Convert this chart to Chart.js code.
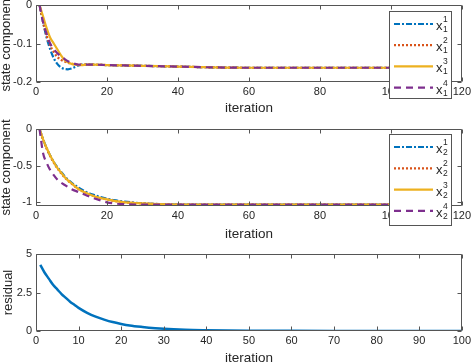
<!DOCTYPE html>
<html>
<head>
<meta charset="utf-8">
<script src="https://cdn.jsdelivr.net/npm/chart.js@4.4.0/dist/chart.umd.min.js"></script>
<style>
  html, body { margin: 0; padding: 0; background: #fff; overflow: hidden; }
  #wrap { position: relative; width: 474px; height: 363px; }
  canvas { position: absolute; left: 0; }
</style>
</head>
<body>
<div id="wrap">
  <canvas id="c1" width="474" height="130" style="top:-10px"></canvas>
  <canvas id="c2" width="474" height="130" style="top:115px"></canvas>
  <canvas id="c3" width="474" height="128" style="top:240px"></canvas>
</div>
<script>
// --- data ---
const iter1 = [1, 2, 3, 4, 5, 6, 7, 8, 9, 10, 11, 12, 13, 14, 16, 20, 25, 30, 40, 50, 60, 70, 80, 90, 100];
const x1_1 = [0, -0.045, -0.085, -0.115, -0.138, -0.153, -0.162, -0.166, -0.167, -0.165, -0.161, -0.157, -0.155, -0.154, -0.155, -0.156, -0.157, -0.158, -0.16, -0.162, -0.163, -0.163, -0.163, -0.163, -0.163];
const x1_2 = [0, -0.045, -0.08, -0.105, -0.122, -0.135, -0.142, -0.147, -0.15, -0.152, -0.154, -0.155, -0.155, -0.155, -0.155, -0.156, -0.157, -0.158, -0.16, -0.162, -0.163, -0.163, -0.163, -0.163, -0.163];
const x1_3 = [0, -0.03, -0.06, -0.085, -0.1, -0.115, -0.13, -0.142, -0.149, -0.153, -0.155, -0.156, -0.156, -0.155, -0.155, -0.156, -0.157, -0.158, -0.16, -0.162, -0.163, -0.163, -0.163, -0.163, -0.163];
const x1_4 = [0, -0.045, -0.075, -0.1, -0.115, -0.125, -0.133, -0.14, -0.146, -0.15, -0.153, -0.155, -0.155, -0.155, -0.155, -0.156, -0.157, -0.158, -0.16, -0.162, -0.163, -0.163, -0.163, -0.163, -0.163];

const iter2 = [1, 2, 3, 4, 5, 6, 7, 8, 9, 10, 12, 14, 16, 18, 20, 22, 25, 28, 30, 35, 40, 50, 60, 70, 80, 90, 100];
const x2_1 = [0, -0.14, -0.26, -0.36, -0.45, -0.52, -0.58, -0.64, -0.69, -0.73, -0.8, -0.855, -0.895, -0.925, -0.95, -0.97, -0.99, -1.005, -1.012, -1.024, -1.03, -1.03, -1.03, -1.03, -1.03, -1.03, -1.03];
const x2_2 = [0, -0.15, -0.27, -0.37, -0.46, -0.535, -0.6, -0.655, -0.705, -0.745, -0.82, -0.87, -0.91, -0.94, -0.96, -0.98, -1.0, -1.01, -1.015, -1.025, -1.03, -1.03, -1.03, -1.03, -1.03, -1.03, -1.03];
const x2_3 = [0, -0.14, -0.26, -0.36, -0.45, -0.53, -0.59, -0.65, -0.7, -0.74, -0.82, -0.87, -0.91, -0.94, -0.96, -0.98, -1.0, -1.01, -1.015, -1.025, -1.03, -1.03, -1.03, -1.03, -1.03, -1.03, -1.03];
const x2_4 = [0, -0.33, -0.46, -0.56, -0.63, -0.69, -0.73, -0.76, -0.79, -0.82, -0.86, -0.9, -0.94, -0.97, -1.0, -1.015, -1.025, -1.03, -1.03, -1.03, -1.03, -1.03, -1.03, -1.03, -1.03, -1.03, -1.03];

const iter3 = [1, 2, 3, 4, 5, 6, 7, 8, 9, 10, 12, 14, 16, 18, 20, 22, 25, 28, 30, 35, 40, 45, 50, 60, 70, 80, 90, 100];
const residual = [4.3, 3.8, 3.4, 3.0, 2.7, 2.4, 2.15, 1.9, 1.7, 1.5, 1.18, 0.93, 0.74, 0.58, 0.46, 0.36, 0.26, 0.18, 0.14, 0.08, 0.05, 0.03, 0.02, 0.01, 0.005, 0.003, 0.002, 0.001];

const xTicks1 = [0, 20, 40, 60, 80, 100, 120];
const yTicks1 = [-0.2, -0.1, 0];
const yTicks2 = [-1, -0.5, 0];
const xTicks3 = [0, 10, 20, 30, 40, 50, 60, 70, 80, 90, 100];
const yTicks3 = [0, 2.5, 5];

const FONT = "'Liberation Sans', Arial, sans-serif";
const TEXT = '#262626';
const AXIS = '#555555';
const BLUE = '#0072BD', RED = '#D95319', YELLOW = '#EDB120', PURPLE = '#7E2F8E';

Chart.defaults.font.family = FONT;
Chart.defaults.color = TEXT;

// matlab-like box with inward ticks on all four sides
const boxPlugin = {
  id: 'mbox',
  afterDatasetsDraw(chart) {
    const {ctx, chartArea: a, scales} = chart;
    const L = Math.round(a.left) + 0.5, R = Math.round(a.right) - 0.5;
    const T = Math.round(a.top) + 0.5, B = Math.round(a.bottom) - 0.5;
    ctx.save();
    ctx.strokeStyle = AXIS;
    ctx.lineWidth = 1;
    ctx.beginPath();
    ctx.rect(L, T, R - L, B - T);
    scales.x.ticks.forEach(t => {
      const p = Math.round(scales.x.getPixelForValue(t.value)) + 0.5;
      ctx.moveTo(p, B); ctx.lineTo(p, B - 4);
      ctx.moveTo(p, T); ctx.lineTo(p, T + 4);
    });
    scales.y.ticks.forEach(t => {
      const p = Math.round(scales.y.getPixelForValue(t.value)) + 0.5;
      ctx.moveTo(L, p); ctx.lineTo(L + 4, p);
      ctx.moveTo(R, p); ctx.lineTo(R - 4, p);
    });
    ctx.stroke();
    ctx.restore();
  }
};

// boxed legend with x^i_j labels
const legendPlugin = {
  id: 'mlegend',
  afterDraw(chart, args, opts) {
    if (!opts.show) return;
    const {ctx, chartArea: a} = chart;
    const x0 = Math.round(a.right) - 73, y0 = Math.round(a.top) + opts.top;
    const w = 62, h = opts.height;
    ctx.save();
    ctx.fillStyle = '#fff';
    ctx.fillRect(x0, y0, w, h);
    ctx.strokeStyle = AXIS;
    ctx.lineWidth = 1;
    ctx.strokeRect(x0 + 0.5, y0 + 0.5, w, h);
    chart.data.datasets.forEach((ds, i) => {
      const y = y0 + opts.first + i * opts.step;
      ctx.strokeStyle = ds.borderColor;
      ctx.lineWidth = ds.borderWidth;
      ctx.setLineDash(ds.borderDash || []);
      ctx.beginPath();
      ctx.moveTo(x0 + 5, y);
      ctx.lineTo(x0 + 44, y);
      ctx.stroke();
      ctx.setLineDash([]);
      const m = ds.label.match(/x\^(\d)_(\d)/);
      ctx.fillStyle = TEXT;
      ctx.textAlign = 'left';
      ctx.textBaseline = 'alphabetic';
      ctx.font = '13px ' + FONT;
      ctx.fillText('x', x0 + 47, y + 6);
      ctx.font = '8.5px ' + FONT;
      ctx.fillText(m[1], x0 + 54, y - 2);
      ctx.fillText(m[2], x0 + 54, y + 8);
    });
    ctx.restore();
  }
};

function pts(xs, ys) {
  return xs.map((x, i) => ({x: x, y: ys[i]}));
}

function series(label, xs, ys, color, dash, order, width) {
  return {
    label: label,
    data: pts(xs, ys),
    borderColor: color,
    borderWidth: width || 2.2,
    borderDash: dash,
    pointRadius: 0,
    fill: false,
    cubicInterpolationMode: 'monotone',
    order: order
  };
}

function makeChart(id, datasets, cfg) {
  return new Chart(document.getElementById(id), {
    type: 'line',
    data: {datasets: datasets},
    plugins: [boxPlugin, legendPlugin],
    options: {
      responsive: false,
      animation: false,
      devicePixelRatio: 1,
      layout: {padding: {left: 0, right: 9, top: cfg.padTop, bottom: 0}},
      plugins: {
        legend: {display: false},
        tooltip: {enabled: false},
        mlegend: cfg.legend
      },
      scales: {
        x: {
          type: 'linear',
          min: cfg.xMin, max: cfg.xMax,
          afterBuildTicks: s => { s.ticks = cfg.xTicks.map(v => ({value: v})); },
          afterFit: s => { s.height = cfg.xHeight; },
          grid: {display: false, drawTicks: false},
          border: {display: false},
          ticks: {padding: 3, maxRotation: 0, autoSkip: false, font: {size: 11}, color: TEXT, callback: v => String(v)},
          title: {display: true, text: 'iteration', font: {size: 13.5}, color: TEXT, padding: {top: 0, bottom: cfg.titlePad}}
        },
        y: {
          type: 'linear',
          min: cfg.yMin, max: cfg.yMax,
          afterBuildTicks: s => { s.ticks = cfg.yTicks.map(v => ({value: v})); },
          afterFit: s => { s.width = 36; },
          grid: {display: false, drawTicks: false},
          border: {display: false},
          ticks: {padding: 4, font: {size: 11}, color: TEXT, callback: v => String(v)},
          title: {display: true, text: cfg.yTitle, font: {size: 13}, color: TEXT, padding: {top: cfg.yTitlePad, bottom: 0}}
        }
      }
    }
  });
}

makeChart('c1', [
  series('x^1_1', iter1, x1_1, BLUE, [6, 2, 2, 2], 4),
  series('x^2_1', iter1, x1_2, RED, [2, 2], 3),
  series('x^3_1', iter1, x1_3, YELLOW, [], 2),
  series('x^4_1', iter1, x1_4, PURPLE, [7, 5], 1)
], {
  padTop: 15, xHeight: 38, titlePad: 4, xMin: 0, xMax: 120, xTicks: xTicks1,
  yMin: -0.2, yMax: 0, yTicks: yTicks1, yTitle: 'state component', yTitlePad: -1,
  legend: {show: true, top: 6, height: 87, first: 13, step: 21.2}
});

makeChart('c2', [
  series('x^1_2', iter2, x2_1, BLUE, [6, 2, 2, 2], 4),
  series('x^2_2', iter2, x2_2, RED, [2, 2], 3),
  series('x^3_2', iter2, x2_3, YELLOW, [], 2),
  series('x^4_2', iter2, x2_4, PURPLE, [7, 5], 1)
], {
  padTop: 14, xHeight: 39, titlePad: 3, xMin: 0, xMax: 120, xTicks: xTicks1,
  yMin: -1.05, yMax: 0, yTicks: yTicks2, yTitle: 'state component', yTitlePad: -1,
  legend: {show: true, top: 5, height: 91, first: 13, step: 21.3}
});

makeChart('c3', [
  series('residual', iter3, residual, BLUE, [], 1, 2.5)
], {
  padTop: 14, xHeight: 37, titlePad: 2, xMin: 0, xMax: 100, xTicks: xTicks3,
  yMin: 0, yMax: 5, yTicks: yTicks3, yTitle: 'residual', yTitlePad: 1,
  legend: {show: false}
});
</script>
</body>
</html>
